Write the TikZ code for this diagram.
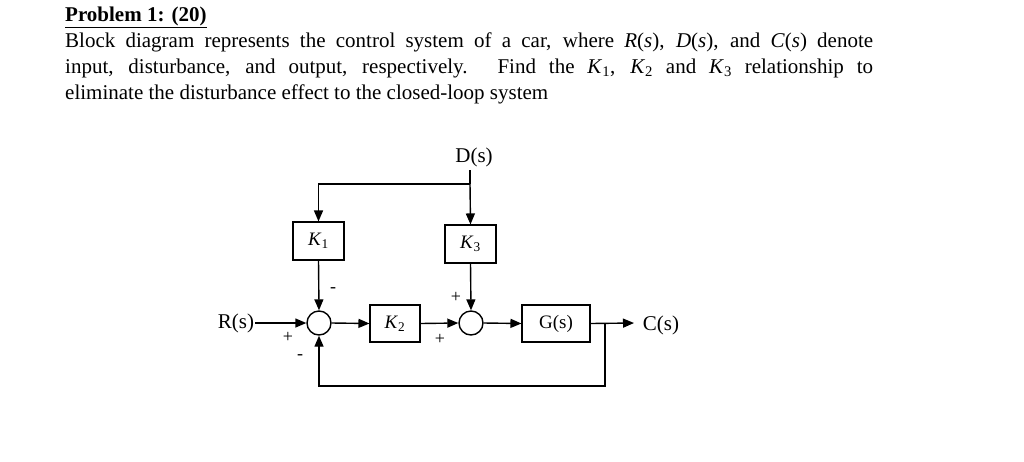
\documentclass[tikz,border=0pt]{standalone}
\usepackage{fontspec}
\setmainfont{Liberation Serif}
\usetikzlibrary{arrows.meta}
\newcommand{\Kv}[1]{\textit{K}\textsubscript{#1}}
\begin{document}
\begin{tikzpicture}[x=1pt,y=-1pt,
  blk/.style={draw,line width=1.1pt,minimum height=38pt,inner sep=0pt,font=\fontsize{19}{19}\selectfont},
  sumj/.style={draw,line width=1.4pt,circle,minimum size=24pt,inner sep=0pt},
  sig/.style={line width=1.4pt,-{Triangle[length=11pt,width=9pt]}},
  lbl/.style={font=\fontsize{21}{21}\selectfont},
  sg/.style={font=\fontsize{18}{18}\selectfont}]
\useasboundingbox (0,0) rectangle (1024,461);
\node[anchor=north west,align=left,inner sep=0pt,font=\fontsize{21}{26}\selectfont] (txt) at (65,7)
{\textbf{\underline{Problem 1: (20)}}\\
\makebox[808pt][s]{Block diagram represents the control system of a car, where \textit{R}(\textit{s}), \textit{D}(\textit{s}), and \textit{C}(\textit{s}) denote}\\
\makebox[808pt][s]{input, disturbance, and output, respectively. Find the \Kv{1}, \Kv{2} and \Kv{3} relationship to}\\
eliminate the disturbance effect to the closed-loop system};
\node[sumj] (s1) at (319,323) {};
\node[sumj] (s2) at (471,323) {};
\node[blk,minimum width=51pt] (k1) at (318.5,241) {\Kv{1}};
\node[blk,minimum width=51pt] (k3) at (470.5,244) {\Kv{3}};
\node[blk,minimum width=50pt,minimum height=37pt] (k2) at (395,323.5) {\Kv{2}};
\node[blk,minimum width=68pt,minimum height=37pt] (g) at (556,323.5) {G(s)};
\node[lbl,inner sep=1pt] (r) at (236,323) {R(s)};
\node[lbl] (d) at (474,157) {D(s)};
\node[lbl] (c) at (661,325) {C(s)};
\coordinate (dt) at (470,170);
\coordinate (dj) at (470,184);
\coordinate (fb) at (605,323);
\coordinate (co) at (634,323);
\draw[line width=1.4pt] (dt) -- (dj);
\draw[sig] (dj) -- (k3.north);
\draw[sig] (dj) -| (k1.north);
\draw[sig] (r.east) -- (s1.west);
\draw[sig] (k1.south) -- (s1.north);
\draw[sig] (s1.east) -- (k2.west);
\draw[sig] (k2.east) -- (s2.west);
\draw[sig] (k3.south) -- (s2.north);
\draw[sig] (s2.east) -- (g.west);
\draw[sig] (g.east) -- (co);
\draw[sig] (fb) -- (605,386) -| (s1.south);
\node[sg] at (288,337) {+};
\node[sg] at (333,290) {-};
\node[sg] at (300,357) {-};
\node[sg] at (440,339) {+};
\node[sg] at (456,297) {+};
\end{tikzpicture}
\end{document}
